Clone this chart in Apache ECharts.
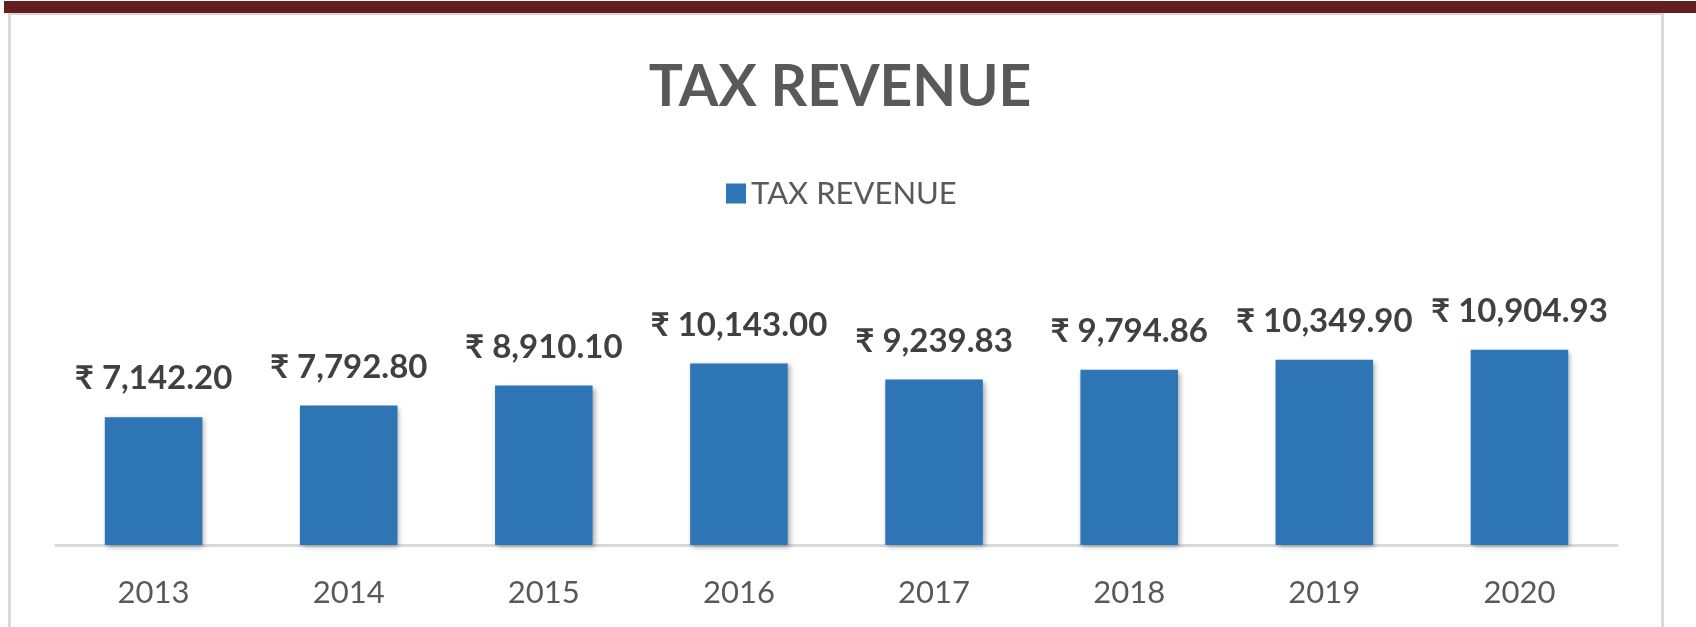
<!DOCTYPE html>
<html>
<head>
<meta charset="utf-8">
<script src="https://cdn.jsdelivr.net/npm/echarts@6/dist/echarts.min.js"></script>
<style>
    html, body { margin: 0; padding: 0; background: #fff; }
    #wrap { position: relative; width: 1696px; height: 627px; overflow: hidden; }
    #chart { position: absolute; left: 0; top: 0; width: 1696px; height: 627px; }
    .band { position: absolute; left: 4px; top: 1px; width: 1692px; height: 12px; background: #631f20; }
    .topline { position: absolute; left: 8px; top: 13px; width: 1656px; height: 2px; background: #dcd6d6; }
    .side { position: absolute; top: 13px; width: 3px; height: 614px; background: #d9d9d9; }
</style>
</head>
<body>
<div id="wrap">
    <div id="chart"></div>
    <div class="band"></div>
    <div class="topline"></div>
    <div class="side" style="left:8px"></div>
    <div class="side" style="left:1661px"></div>
</div>
<script>
// data
var years = ['2013', '2014', '2015', '2016', '2017', '2018', '2019', '2020'];
var taxRevenue = [7142.20, 7792.80, 8910.10, 10143.00, 9239.83, 9794.86, 10349.90, 10904.93];
var seriesName = 'TAX REVENUE';
var chartTitle = 'TAX REVENUE';

var fontFamily = 'Lato, "Open Sans", sans-serif';

function formatMoney(v) {
    return '\u20B9 ' + v.toLocaleString('en-US', {minimumFractionDigits: 2, maximumFractionDigits: 2});
}

var chart = echarts.init(document.getElementById('chart'));
var option = {
    animation: false,
    title: {
        text: chartTitle,
        left: 835,
        textAlign: 'center',
        top: 54,
        textStyle: {
            fontFamily: fontFamily,
            fontSize: 57,
            fontWeight: 'bold',
            color: '#595959'
        }
    },
    legend: {
        data: [seriesName],
        left: 721,
        top: 173,
        itemWidth: 20,
        itemHeight: 20,
        itemGap: 10,
        icon: 'rect',
        textStyle: {
            fontFamily: fontFamily,
            fontSize: 31,
            color: '#595959'
        }
    },
    grid: {
        left: 56,
        right: 79,
        top: 187,
        bottom: 82
    },
    xAxis: {
        type: 'category',
        data: years,
        axisLine: { lineStyle: { color: '#d9d9d9', width: 3 } },
        axisTick: { show: false },
        axisLabel: {
            margin: 32,
            fontFamily: fontFamily,
            fontSize: 31,
            color: '#595959'
        }
    },
    yAxis: {
        type: 'value',
        min: 0,
        max: 20000,
        show: false,
        splitLine: { show: false }
    },
    series: [{
        name: seriesName,
        type: 'bar',
        data: taxRevenue,
        barWidth: '50%',
        itemStyle: {
            color: '#2e75b6',
            shadowColor: 'rgba(0,0,0,0.35)',
            shadowBlur: 5,
            shadowOffsetX: 2,
            shadowOffsetY: 2
        },
        label: {
            show: true,
            position: 'top',
            distance: 22,
            fontFamily: fontFamily,
            fontSize: 33,
            fontWeight: 'bold',
            color: '#404040',
            formatter: function (p) { return formatMoney(p.value); }
        }
    }]
};
chart.setOption(option);
</script>
</body>
</html>
